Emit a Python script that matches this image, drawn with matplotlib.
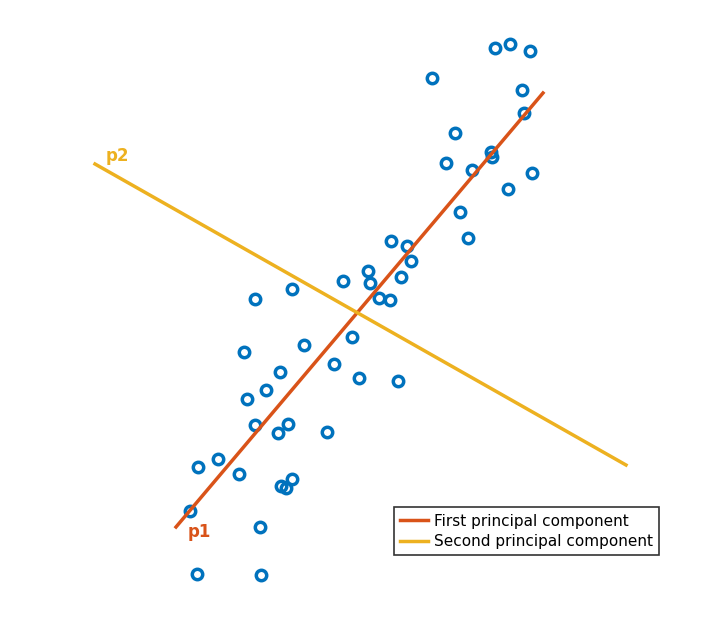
import matplotlib
matplotlib.use("Agg")
import matplotlib.pyplot as plt

xs = [495,510,530,432,522,524,455,491,492,446,472,508,532,460,468,391,407,411,368,370,401,343,379,390,292,255,352,304,244,334,359,398,280,266,247,288,255,278,327,218,198,239,281,286,292,190,260,197,261]
ys = [48,44,51,78,90,113,133,152,157,163,170,189,173,212,238,241,246,261,271,283,277,281,298,300,289,299,337,345,352,364,378,381,372,390,399,424,425,433,432,459,467,474,486,488,479,511,527,574,575]
p1_x = [176, 543]; p1_y = [527, 93]
p2_x = [95, 626]; p2_y = [164, 465]

fig = plt.figure(figsize=(7.2, 6.21), dpi=100)
ax = fig.add_axes([0, 0, 1, 1])
ax.set_xlim(0, 720); ax.set_ylim(621, 0)
ax.axis('off')
ax.plot(xs, ys, 'o', mfc='none', mec='#0072BD', mew=2.5, ms=7.5, ls='none')
ax.plot(p1_x, p1_y, color='#D95319', lw=2.5, label='First principal component')
ax.plot(p2_x, p2_y, color='#EDB120', lw=2.5, label='Second principal component')
ax.text(188, 532, 'p1', color='#D95319', fontsize=12, fontweight='bold', va='center')
ax.text(106, 156, 'p2', color='#EDB120', fontsize=12, fontweight='bold', va='center')
leg = ax.legend(loc='lower left', bbox_to_anchor=(0.537, 0.094), fontsize=11,
                frameon=True, fancybox=False, edgecolor='black', handlelength=1.8,
                borderpad=0.4, labelspacing=0.35, handletextpad=0.4)
leg.get_frame().set_linewidth(1.2)
fig.savefig('out.png', dpi=100)
